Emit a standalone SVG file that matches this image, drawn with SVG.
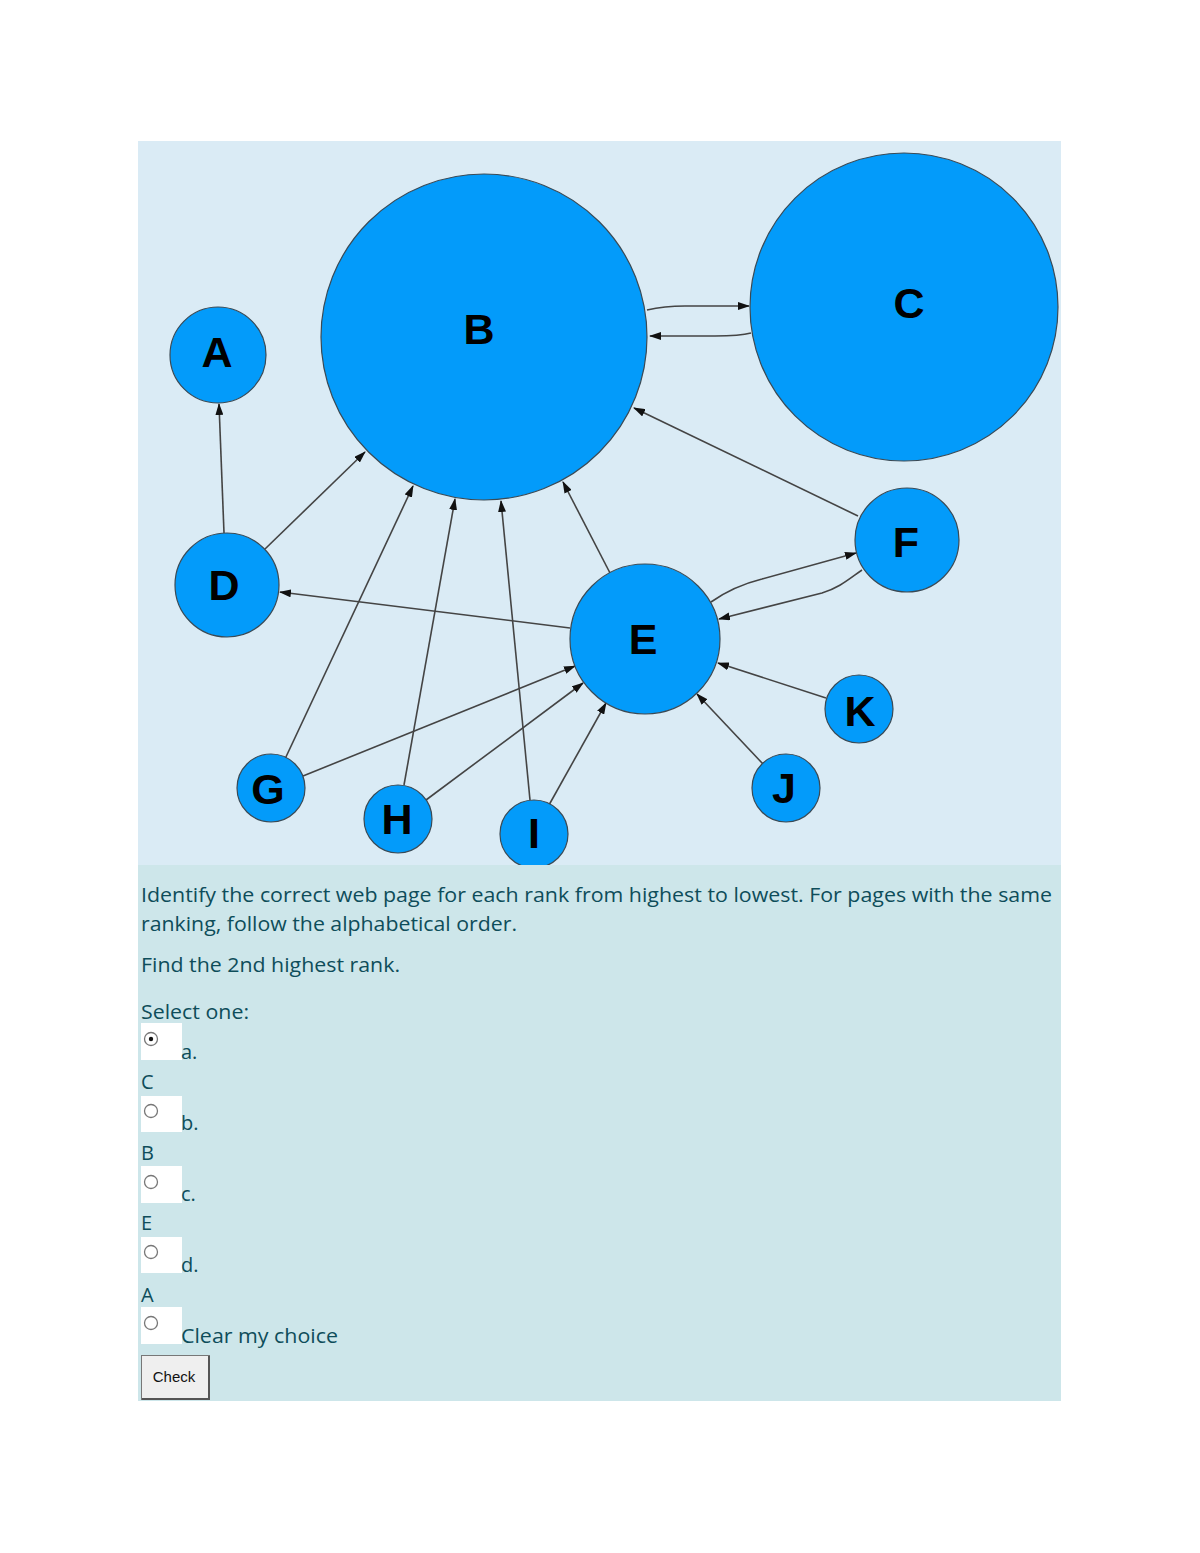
<svg xmlns="http://www.w3.org/2000/svg" width="1200" height="1553" viewBox="0 0 1200 1553">
<style>
.node{fill:#039bfa;stroke:#3a4a55;stroke-width:1.2}
.lbl{font-family:"Liberation Sans",Arial,sans-serif;font-weight:bold;font-size:43px;fill:#000;text-anchor:middle}
.edge{fill:none;stroke:#444;stroke-width:1.6;marker-end:url(#arr)}
.q{font-family:"Open Sans","Noto Sans",sans-serif;font-size:20px;fill:#0e4d5a}
.box{fill:#fff}
.radio{fill:#fff;stroke:#777;stroke-width:1.3}
</style>
<defs>
<marker id="arr" markerUnits="userSpaceOnUse" markerWidth="12" markerHeight="8" refX="11" refY="4" orient="auto">
<path d="M0,0 L12,4 L0,8 z" fill="#111"/>
</marker>
</defs>
<rect width="1200" height="1553" fill="#fff"/>
<rect x="138" y="141" width="923" height="726" fill="#daebf5"/>
<g id="connectors">
<path class="edge" d="M224,533 L219,404"/>
<path class="edge" d="M265,549 L365,452"/>
<path class="edge" d="M285,759 L413,486"/>
<path class="edge" d="M404,785 L455,499"/>
<path class="edge" d="M530,800 L501,501"/>
<path class="edge" d="M610,573 L563,482"/>
<path class="edge" d="M858,516 L634,408"/>
<path class="edge" d="M570,628 L280,592"/>
<path class="edge" d="M303,776 L575,666"/>
<path class="edge" d="M426,800 L583,683"/>
<path class="edge" d="M549,805 L606,703"/>
<path class="edge" d="M763,764 L697,694"/>
<path class="edge" d="M826,698 L718,663"/>
<path class="edge" d="M711,602 C728,590 742,584 762,579 L856,553"/>
<path class="edge" d="M862,570 C849,579 839,588 822,593 L719,619"/>
<path class="edge" d="M647,310 C660,307 670,306 685,306 L749,306"/>
<path class="edge" d="M751,333 C740,336 730,336 715,336 L650,336"/>
</g>
<g id="node-A"><circle class="node" cx="218" cy="355" r="48"/><text class="lbl" x="217" y="367">A</text></g>
<g id="node-B"><circle class="node" cx="484" cy="337" r="163"/><text class="lbl" x="479" y="344">B</text></g>
<g id="node-C"><circle class="node" cx="904" cy="307" r="154"/><text class="lbl" x="909" y="318">C</text></g>
<g id="node-D"><circle class="node" cx="227" cy="585" r="52"/><text class="lbl" x="224" y="600">D</text></g>
<g id="node-E"><circle class="node" cx="645" cy="639" r="75"/><text class="lbl" x="643" y="654">E</text></g>
<g id="node-F"><circle class="node" cx="907" cy="540" r="52"/><text class="lbl" x="906" y="557">F</text></g>
<g id="node-G"><circle class="node" cx="271" cy="788" r="34"/><text class="lbl" x="268" y="804">G</text></g>
<g id="node-H"><circle class="node" cx="398" cy="819" r="34"/><text class="lbl" x="397" y="834">H</text></g>
<g id="node-I"><circle class="node" cx="534" cy="834" r="34"/><text class="lbl" x="534" y="848">I</text></g>
<g id="node-J"><circle class="node" cx="786" cy="788" r="34"/><text class="lbl" x="784" y="803">J</text></g>
<g id="node-K"><circle class="node" cx="859" cy="709" r="34"/><text class="lbl" x="860" y="726">K</text></g>
<rect x="138" y="865" width="923" height="536" fill="#cde6ea"/>
<text class="q" x="141" y="902" textLength="911" lengthAdjust="spacingAndGlyphs">Identify the correct web page for each rank from highest to lowest. For pages with the same</text>
<text class="q" x="141" y="931" textLength="376" lengthAdjust="spacingAndGlyphs">ranking, follow the alphabetical order.</text>
<text class="q" x="141" y="972" textLength="259" lengthAdjust="spacingAndGlyphs">Find the 2nd highest rank.</text>
<text class="q" x="141" y="1019" textLength="108" lengthAdjust="spacingAndGlyphs">Select one:</text>
<rect class="box" x="141" y="1023" width="41" height="37"/>
<circle class="radio" cx="151" cy="1039" r="6.5"/><circle cx="151" cy="1039" r="2.2" fill="#111"/>
<text class="q" x="181" y="1059">a.</text>
<text class="q" x="141" y="1089">C</text>
<rect class="box" x="141" y="1096" width="41" height="36"/>
<circle class="radio" cx="151" cy="1111" r="6.5"/>
<text class="q" x="181" y="1130">b.</text>
<text class="q" x="141" y="1160">B</text>
<rect class="box" x="141" y="1166" width="41" height="37"/>
<circle class="radio" cx="151" cy="1182" r="6.5"/>
<text class="q" x="181" y="1201">c.</text>
<text class="q" x="141" y="1230">E</text>
<rect class="box" x="141" y="1237" width="41" height="36"/>
<circle class="radio" cx="151" cy="1252" r="6.5"/>
<text class="q" x="181" y="1272">d.</text>
<text class="q" x="141" y="1302">A</text>
<rect class="box" x="141" y="1307" width="41" height="37"/>
<circle class="radio" cx="151" cy="1323" r="6.5"/>
<text class="q" x="181" y="1343" textLength="157" lengthAdjust="spacingAndGlyphs">Clear my choice</text>
<rect x="141.5" y="1355.5" width="68" height="44" fill="#efefef" stroke="#777" stroke-width="1"/>
<line x1="142" y1="1399" x2="210" y2="1399" stroke="#555" stroke-width="2"/>
<line x1="209" y1="1356" x2="209" y2="1400" stroke="#555" stroke-width="2"/>
<text x="174" y="1382" font-family="Liberation Sans,Arial,sans-serif" font-size="15" fill="#111" text-anchor="middle">Check</text>
</svg>
